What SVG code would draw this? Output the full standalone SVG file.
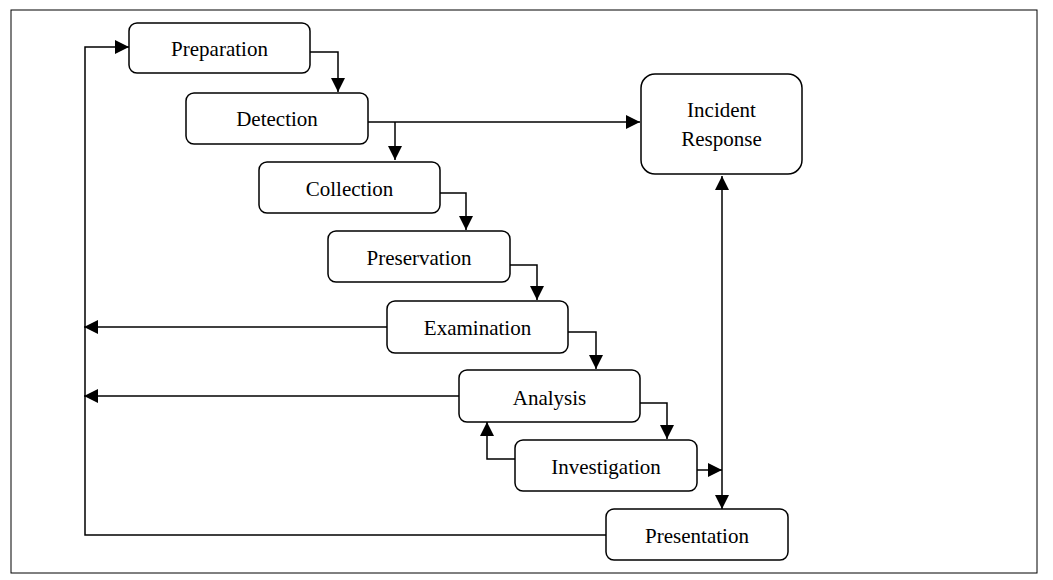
<svg xmlns="http://www.w3.org/2000/svg" width="1053" height="580" viewBox="0 0 1053 580">
<defs>
<marker id="a" viewBox="0 0 10 10" refX="10" refY="5" markerWidth="14" markerHeight="14" markerUnits="userSpaceOnUse" orient="auto-start-reverse"><path d="M0,0L10,5L0,10z" fill="#000"/></marker>
<style>
.n rect{fill:#fff;stroke:#000;stroke-width:1.5}
.n text{font-family:"Liberation Serif",serif;font-size:21px;text-anchor:middle;fill:#000}
#c path{fill:none;stroke:#000;stroke-width:1.5;marker-end:url(#a)}
</style>
</defs>
<rect x="0" y="0" width="1053" height="580" fill="#fff"/>
<rect x="11" y="10" width="1026" height="563" fill="none" stroke="#000" stroke-width="1"/>
<g id="c">
<path d="M310,52H338V92"/>
<path d="M368,122H640"/>
<path d="M395,122V160"/>
<path d="M440,193H466V230"/>
<path d="M510,265H537V300"/>
<path d="M568,332H596V369"/>
<path d="M387,327H84"/>
<path d="M640,403H667V439"/>
<path d="M459,396H84"/>
<path d="M515,459H487V422"/>
<path d="M697,470H722"/>
<path d="M722,176V509" style="marker-start:url(#a)"/>
<path d="M606,535H85V47H129"/>
</g>
<g id="preparation" class="n"><rect x="129" y="23" width="181" height="50" rx="8"/><text x="219.5" y="56">Preparation</text></g>
<g id="detection" class="n"><rect x="186" y="93" width="182" height="51" rx="8"/><text x="277" y="126">Detection</text></g>
<g id="collection" class="n"><rect x="259" y="162" width="181" height="51" rx="8"/><text x="349.5" y="196">Collection</text></g>
<g id="preservation" class="n"><rect x="328" y="231" width="182" height="51" rx="8"/><text x="419" y="265">Preservation</text></g>
<g id="examination" class="n"><rect x="387" y="301" width="181" height="52" rx="8"/><text x="477.5" y="335">Examination</text></g>
<g id="analysis" class="n"><rect x="459" y="370" width="181" height="52" rx="8"/><text x="549.5" y="405">Analysis</text></g>
<g id="investigation" class="n"><rect x="515" y="440" width="182" height="51" rx="8"/><text x="606" y="474">Investigation</text></g>
<g id="presentation" class="n"><rect x="606" y="509" width="182" height="51" rx="8"/><text x="697" y="543">Presentation</text></g>
<g id="incident" class="n"><rect x="641" y="74" width="161" height="100" rx="14"/><text x="721.5" y="117">Incident</text><text x="721.5" y="146">Response</text></g>
</svg>
